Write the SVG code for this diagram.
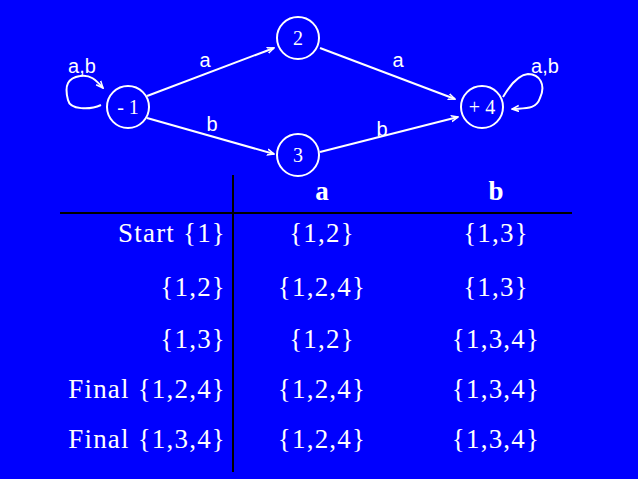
<svg xmlns="http://www.w3.org/2000/svg" width="638" height="479" viewBox="0 0 638 479">
<style>
.n{fill:none;stroke:#fff;stroke-width:2}
.e{fill:none;stroke:#fff;stroke-width:2;marker-end:url(#ah)}
.nt{font-family:"Liberation Serif",serif;font-size:20px;fill:#fff;text-anchor:middle}
.el{font-family:"Liberation Sans",sans-serif;font-size:20px;fill:#fff;text-anchor:middle}
.t{font-family:"Liberation Serif",serif;font-size:27px;letter-spacing:1.2px;fill:#fff}
.h{font-family:"Liberation Serif",serif;font-size:27px;font-weight:bold;fill:#fff;text-anchor:middle}
</style>
<defs><marker id="ah" markerWidth="8" markerHeight="8" refX="7" refY="4" orient="auto" markerUnits="userSpaceOnUse"><path d="M0,1 L7,4 L0,7" fill="none" stroke="#fff" stroke-width="1.5"/></marker></defs>
<rect width="638" height="479" fill="#0000fe"/>
<g id="edges">
<path class="e" d="M147,96 L274,48"/>
<path class="e" d="M147,118 L274,154"/>
<path class="e" d="M320,48 L455,99"/>
<path class="e" d="M320,152 L458,117"/>
<path class="e" d="M101,105 C90,110 70,110 68,100 C64,85 68,78 80,76 C90,74 96,80 103,88"/>
<path class="e" d="M503,97 C510,85 518,75 528,74 C540,74 546,85 540,98 C536,110 525,108 512,109"/>
<text class="el" x="205" y="67">a</text>
<text class="el" x="212" y="131">b</text>
<text class="el" x="398" y="67">a</text>
<text class="el" x="382" y="136">b</text>
<text class="el" x="82" y="73">a,b</text>
<text class="el" x="545" y="73">a,b</text>
</g>
<g id="n1"><circle class="n" cx="128" cy="107" r="21"/><text class="nt" x="128" y="114">-  1</text></g>
<g id="n2"><circle class="n" cx="298" cy="38" r="21"/><text class="nt" x="298" y="45">2</text></g>
<g id="n3"><circle class="n" cx="298" cy="155" r="21"/><text class="nt" x="298" y="162">3</text></g>
<g id="n4"><circle class="n" cx="482" cy="107" r="21"/><text class="nt" x="482" y="114">+ 4</text></g>
<g id="table">
<line x1="60" y1="213" x2="572" y2="213" stroke="#000" stroke-width="2"/>
<line x1="233" y1="175" x2="233" y2="472" stroke="#000" stroke-width="2"/>
<text class="h" x="322" y="200">a</text>
<text class="h" x="496" y="200">b</text>
<g class="t" text-anchor="end">
<text x="226" y="242">Start {1}</text>
<text x="226" y="296">{1,2}</text>
<text x="226" y="348">{1,3}</text>
<text x="226" y="398">Final {1,2,4}</text>
<text x="226" y="448">Final {1,3,4}</text>
</g>
<g class="t" text-anchor="middle">
<text x="322" y="242">{1,2}</text>
<text x="322" y="296">{1,2,4}</text>
<text x="322" y="348">{1,2}</text>
<text x="322" y="398">{1,2,4}</text>
<text x="322" y="448">{1,2,4}</text>
<text x="496" y="242">{1,3}</text>
<text x="496" y="296">{1,3}</text>
<text x="496" y="348">{1,3,4}</text>
<text x="496" y="398">{1,3,4}</text>
<text x="496" y="448">{1,3,4}</text>
</g>
</g>
</svg>
